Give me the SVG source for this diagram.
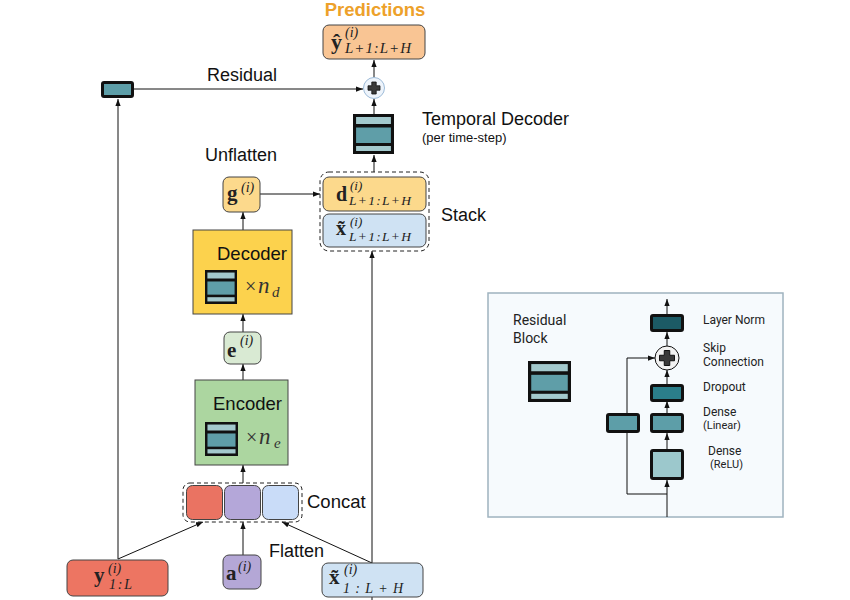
<svg xmlns="http://www.w3.org/2000/svg" xmlns:xlink="http://www.w3.org/1999/xlink" width="850" height="600" viewBox="0 0 850 600">
<style>
.lbl{font-family:"Liberation Sans",Arial,sans-serif;font-size:18px;fill:#111}
.sm{font-size:13px}
.bold{font-weight:bold}
.rp{font-family:Roboto,"Liberation Sans",sans-serif;font-size:12px;fill:#222}
.mb{font-family:"Liberation Serif","DejaVu Serif",serif;font-weight:bold;font-size:21px;fill:#222}
.mi{font-family:"Liberation Serif","DejaVu Serif",serif;font-style:italic;font-size:14px;fill:#222}
.mr{font-family:"Liberation Serif","DejaVu Serif",serif;font-size:13px;fill:#222}
.box{stroke:#444;stroke-width:1}
.dash{fill:none;stroke:#222;stroke-width:1;stroke-dasharray:4 3}
.dk{stroke:#111;stroke-width:3}
</style>
<defs>
<marker id="ah" viewBox="0 0 8 6" markerWidth="7" markerHeight="5.5" refX="8" refY="3" orient="auto" markerUnits="userSpaceOnUse">
<path d="M0,0 L8,3 L0,6 z" fill="#111"/>
</marker>
<g id="blk">
<rect x="0" y="0" width="40" height="40" fill="#111"/>
<rect x="3" y="3" width="34" height="7" fill="#a3c9cd"/>
<rect x="3" y="13.5" width="34" height="15.5" fill="#5f9ea8"/>
<rect x="3" y="32" width="34" height="5" fill="#a3c9cd"/>
</g>
<path id="plus" d="M-2.2,-6 h4.4 v3.8 h3.8 v4.4 h-3.8 v3.8 h-4.4 v-3.8 h-3.8 v-4.4 h3.8 z" fill="#3a3a3a" stroke="#111" stroke-width="0.8"/>
</defs>

<rect width="850" height="600" fill="#ffffff"/>

<g id="residual-block-panel">
<rect x="488" y="293" width="295" height="224" fill="#f6fafd" stroke="#9fb3bf" stroke-width="1.5"/>
</g>

<g id="connectors" fill="none" stroke="#111" stroke-width="1">
<path d="M118,559 V99" marker-end="url(#ah)"/>
<path d="M134,89 H363" marker-end="url(#ah)"/>
<path d="M374,77 V60" marker-end="url(#ah)"/>
<path d="M374,114 V99" marker-end="url(#ah)"/>
<path d="M374,172 V155" marker-end="url(#ah)"/>
<path d="M260,194 H320" marker-end="url(#ah)"/>
<path d="M243,230 V212" marker-end="url(#ah)"/>
<path d="M243,332 V314" marker-end="url(#ah)"/>
<path d="M243,380 V364" marker-end="url(#ah)"/>
<path d="M243,483 V465" marker-end="url(#ah)"/>
<path d="M118,559 L203,522" marker-end="url(#ah)"/>
<path d="M243,555 V522" marker-end="url(#ah)"/>
<path d="M372,563 L282,522" marker-end="url(#ah)"/>
<path d="M372,563 V251" marker-end="url(#ah)"/>
<path d="M372,597 V600"/>
<path d="M667,314 V299" marker-end="url(#ah)"/>
<path d="M667,346 V332" marker-end="url(#ah)"/>
<path d="M667,384 V370" marker-end="url(#ah)"/>
<path d="M667,413 V401" marker-end="url(#ah)"/>
<path d="M667,449 V433" marker-end="url(#ah)"/>
<path d="M667,517 V480" marker-end="url(#ah)"/>
<path d="M667,494 H627 V358 H655" marker-end="url(#ah)"/>
</g>

<g id="predictions">
<text class="lbl bold" x="375" y="16" text-anchor="middle" style="fill:#eda12a;font-size:18.5px">Predictions</text>
<rect class="box" x="323" y="25" width="102" height="34" rx="6" fill="#f9c594"/>
<text class="mb" x="331" y="49" style="font-size:22px">ŷ</text>
<text class="mi" x="345" y="37">(i)</text>
<text class="mi" x="345" y="53" textLength="66" lengthAdjust="spacing" style="font-size:15px">L+1:L+H</text>
</g>

<g id="sum">
<circle cx="374" cy="88" r="10.5" fill="#eef4fb" stroke="#9dbbd8" stroke-width="1"/>
<use xlink:href="#plus" href="#plus" transform="translate(374,88)"/>
</g>

<g id="residual">
<rect class="dk" x="102.5" y="82.5" width="30" height="14" rx="1.5" fill="#5d9ea8"/>
<text class="lbl" x="207" y="81">Residual</text>
</g>

<g id="temporal-decoder">
<use xlink:href="#blk" href="#blk" transform="translate(353,114) scale(1.025,1)"/>
<text class="lbl" x="422" y="125">Temporal Decoder</text>
<text class="lbl sm" x="422" y="142">(per time-step)</text>
</g>

<g id="stack">
<rect class="dash" x="320" y="172" width="109" height="79" rx="9"/>
<text class="lbl" x="441" y="221">Stack</text>
<g id="d-node">
<rect class="box" x="323" y="177" width="103" height="34" rx="6" fill="#fcd98c"/>
<text class="mb" x="336" y="201" style="font-size:20px">d</text>
<text class="mi" x="350" y="190" style="font-size:13px">(i)</text>
<text class="mi" x="349" y="205" textLength="62" lengthAdjust="spacing" style="font-size:13.5px">L+1:L+H</text>
</g>
<g id="xf-node">
<rect class="box" x="323" y="214" width="103" height="33" rx="6" fill="#cfe2f3"/>
<text class="mb" x="336" y="235" style="font-size:20px">x̃</text>
<text class="mi" x="350" y="226" style="font-size:13px">(i)</text>
<text class="mi" x="349" y="241" textLength="62" lengthAdjust="spacing" style="font-size:13.5px">L+1:L+H</text>
</g>
</g>

<g id="g-node">
<text class="lbl" x="205" y="161">Unflatten</text>
<rect class="box" x="223" y="177" width="37" height="35" rx="6" fill="#fcd98c"/>
<text class="mb" x="227" y="200">g</text>
<text class="mi" x="241" y="192">(i)</text>
</g>

<g id="decoder">
<rect class="box" x="193" y="230" width="99" height="84" fill="#fcd24d"/>
<text class="lbl" x="217" y="260" style="font-size:18.5px">Decoder</text>
<use xlink:href="#blk" href="#blk" transform="translate(205,270) scale(0.8,0.85)"/>
<text class="mr" x="245" y="293" style="font-size:20px;fill:#333">×</text>
<text class="mi" x="258" y="293" style="font-size:23px;fill:#333">n</text>
<text class="mi" x="272" y="297" style="font-size:15px;fill:#333">d</text>
</g>

<g id="e-node">
<rect class="box" x="224" y="332" width="37" height="32" rx="6" fill="#d9ead3"/>
<text class="mb" x="227" y="357">e</text>
<text class="mi" x="240" y="345">(i)</text>
</g>

<g id="encoder">
<rect class="box" x="195" y="380" width="93" height="85" fill="#acd6a0"/>
<text class="lbl" x="213" y="410" style="font-size:18.5px">Encoder</text>
<use xlink:href="#blk" href="#blk" transform="translate(205,422) scale(0.825,0.85)"/>
<text class="mr" x="246" y="444" style="font-size:20px;fill:#333">×</text>
<text class="mi" x="259" y="444" style="font-size:23px;fill:#333">n</text>
<text class="mi" x="274" y="448" style="font-size:15px;fill:#333">e</text>
</g>

<g id="concat">
<rect class="dash" x="183" y="483" width="119" height="39" rx="7"/>
<rect class="box" x="186.5" y="485.5" width="36" height="34" rx="6" fill="#ea7362"/>
<rect class="box" x="224.5" y="485.5" width="36" height="34" rx="6" fill="#b4a7d9"/>
<rect class="box" x="262.5" y="485.5" width="36" height="34" rx="6" fill="#c9dcf8"/>
<text class="lbl" x="307" y="508" style="font-size:18.5px">Concat</text>
</g>

<g id="y-input">
<rect class="box" x="67" y="560" width="101" height="36" rx="6" fill="#ed7562"/>
<text class="mb" x="94" y="582">y</text>
<text class="mi" x="108" y="573">(i)</text>
<text class="mi" x="109" y="589" textLength="23" lengthAdjust="spacing">1:L</text>
</g>

<g id="a-input">
<rect class="box" x="223" y="555" width="38" height="34" rx="6" fill="#b4a7d6"/>
<text class="mb" x="226" y="580">a</text>
<text class="mi" x="238" y="571">(i)</text>
<text class="lbl" x="269" y="557">Flatten</text>
</g>

<g id="x-input">
<rect class="box" x="322" y="563" width="101" height="34" rx="6" fill="#cfe2f3"/>
<text class="mb" x="329" y="584">x̃</text>
<text class="mi" x="344" y="574">(i)</text>
<text class="mi" x="343" y="593" textLength="60" lengthAdjust="spacing">1:L+H</text>
</g>

<g id="residual-block-legend">
<text class="rp" x="513" y="325" style="font-size:14px">Residual</text>
<text class="rp" x="513" y="343" style="font-size:14px">Block</text>
<use xlink:href="#blk" href="#blk" transform="translate(528,361) scale(1.075,1.025)"/>
<g id="layer-norm">
<rect class="dk" x="651.5" y="315.5" width="31" height="15" rx="1.5" fill="#1c5a65"/>
<text class="rp" x="703" y="324">Layer Norm</text>
</g>
<g id="skip">
<circle cx="667" cy="358" r="12" fill="#f2f2f2" stroke="#111" stroke-width="1"/>
<use xlink:href="#plus" href="#plus" transform="translate(667,358) scale(1.25)"/>
<text class="rp" x="703" y="352">Skip</text>
<text class="rp" x="703" y="366">Connection</text>
</g>
<g id="dropout">
<rect class="dk" x="651.5" y="385.5" width="31" height="15" rx="1.5" fill="#2b7e8a"/>
<text class="rp" x="703" y="391">Dropout</text>
</g>
<g id="dense-linear">
<rect class="dk" x="651.5" y="414.5" width="31" height="17" rx="1.5" fill="#5d9ea8"/>
<text class="rp" x="703" y="416">Dense</text>
<text class="rp" x="703" y="429" style="font-size:11px">(Linear)</text>
</g>
<g id="skip-dense">
<rect class="dk" x="607.5" y="414.5" width="31" height="17" rx="1.5" fill="#5d9ea8"/>
</g>
<g id="dense-relu">
<rect class="dk" x="651.5" y="450.5" width="31" height="28" rx="1.5" fill="#9cc8cc"/>
<text class="rp" x="708" y="455">Dense</text>
<text class="rp" x="710" y="468" style="font-size:11px">(ReLU)</text>
</g>
</g>
</svg>
